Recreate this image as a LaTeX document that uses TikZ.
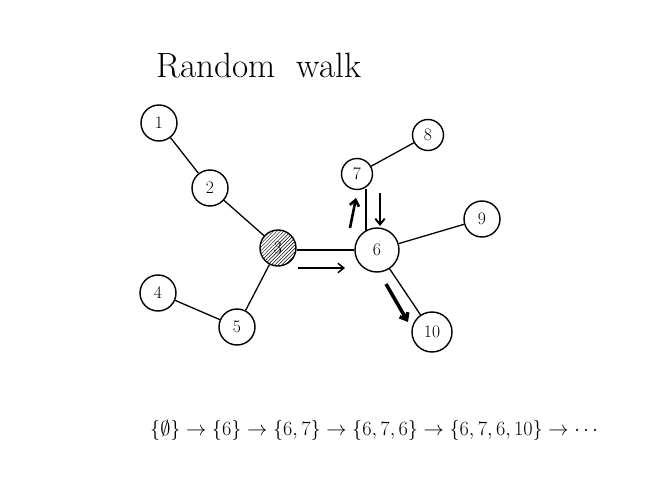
\documentclass[tikz,border=0pt]{standalone}
\usetikzlibrary{patterns,arrows.meta}
\begin{document}
\begin{tikzpicture}[x=0.03cm,y=-0.03cm,
  vtx/.style={circle,draw,line width=1.2pt,minimum size=36*0.03cm,inner sep=0pt,font=\fontsize{15}{17}\selectfont},
  edge/.style={line width=1.1pt},
  walk/.style={line width=2.2pt,-{Straight Barb[length=5pt,width=8pt]}}]
\useasboundingbox (0,0) rectangle (668,480);
\node[font=\fontsize{30}{36}\selectfont] (title) at (259,66) {Random\ \ walk};
\node[vtx] (n1) at (159,123) {1};
\node[vtx] (n2) at (210,188) {2};
\node[vtx,pattern=north east lines,pattern color=black] (n3) at (278,248) {3};
\node[vtx] (n4) at (158,293) {4};
\node[vtx] (n5) at (237,327) {5};
\node[vtx,minimum size=44*0.03cm] (n6) at (377,250) {6};
\node[vtx,minimum size=31*0.03cm] (n7) at (357,174) {7};
\node[vtx,minimum size=31*0.03cm] (n8) at (428,135) {8};
\node[vtx] (n9) at (482,219) {9};
\node[vtx,minimum size=40*0.03cm] (n10) at (432,332) {10};
\coordinate (v6) at (366,231); \coordinate (v7) at (366,189);
\draw[edge] (n1)--(n2);
\draw[edge] (n2)--(n3);
\draw[edge] (n3)--(n5);
\draw[edge] (n5)--(n4);
\draw[edge] (n3.east |- 0,250)--(n6.west);
\draw[edge] (v6)--(v7);
\draw[edge] (n7)--(n8);
\draw[edge] (n6)--(n9);
\draw[edge] (n6)--(n10);
\coordinate (a1s) at (298,268); \coordinate (a1e) at (345,268);
\coordinate (a2s) at (350,228); \coordinate (a2e) at (356,198);
\coordinate (a3s) at (380,193); \coordinate (a3e) at (380,226);
\coordinate (a4s) at (386,284); \coordinate (a4e) at (408,322);
\draw[walk,line width=1.3pt] (a1s)--(a1e);
\draw[walk] (a2s)--(a2e);
\draw[walk,line width=1.6pt] (a3s)--(a3e);
\draw[walk,line width=3pt] (a4s)--(a4e);
\node[font=\fontsize{18.5}{21}\selectfont,anchor=west] (seq) at (146,430)
  {$\{\emptyset\}\rightarrow\{6\}\rightarrow\{6,7\}\rightarrow\{6,7,6\}\rightarrow\{6,7,6,10\}\rightarrow\cdots$};
\end{tikzpicture}
\end{document}
